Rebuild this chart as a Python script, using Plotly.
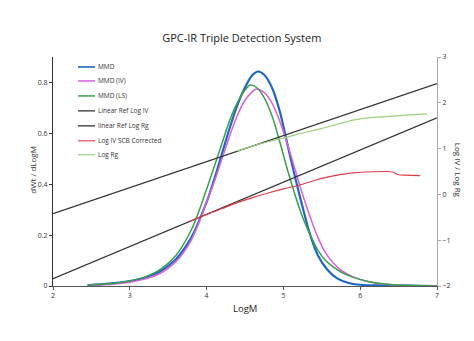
import plotly.graph_objects as go

# Molecular mass distributions (left axis: dWt/dLogM)
logm_mmd = [2.45, 2.6, 2.8, 3.0, 3.2, 3.4, 3.6, 3.8, 4.0, 4.1, 4.2, 4.3, 4.4, 4.5, 4.6,
            4.67, 4.75, 4.85, 4.95, 5.05, 5.15, 5.25, 5.35, 5.45, 5.57, 5.7, 5.85, 6.0,
            6.3, 6.8, 7.0]
mmd = [0.003, 0.006, 0.011, 0.019, 0.033, 0.058, 0.105, 0.19, 0.33, 0.42, 0.52, 0.62,
       0.71, 0.78, 0.83, 0.843, 0.83, 0.78, 0.69, 0.56, 0.43, 0.31, 0.2, 0.12, 0.065,
       0.03, 0.012, 0.005, 0.002, 0.001, 0.0]

logm_iv = [2.45, 2.6, 2.8, 3.0, 3.2, 3.4, 3.6, 3.8, 4.0, 4.1, 4.2, 4.3, 4.4, 4.5, 4.6,
           4.65, 4.75, 4.85, 4.95, 5.05, 5.15, 5.25, 5.35, 5.45, 5.55, 5.65, 5.75, 5.9,
           6.1, 6.3, 6.5, 6.8, 7.0]
mmd_iv = [0.002, 0.004, 0.008, 0.015, 0.028, 0.05, 0.095, 0.18, 0.33, 0.41, 0.5, 0.59,
          0.67, 0.73, 0.765, 0.774, 0.76, 0.72, 0.65, 0.56, 0.46, 0.36, 0.27, 0.19, 0.13,
          0.09, 0.062, 0.037, 0.018, 0.008, 0.003, 0.001, 0.0]

logm_ls = [2.45, 2.6, 2.8, 3.0, 3.2, 3.4, 3.6, 3.8, 4.0, 4.1, 4.2, 4.3, 4.4, 4.5, 4.57,
           4.65, 4.75, 4.85, 4.95, 5.05, 5.15, 5.25, 5.35, 5.45, 5.55, 5.65, 5.75, 5.9,
           6.1, 6.3, 6.5, 6.8, 7.0]
mmd_ls = [0.003, 0.006, 0.011, 0.02, 0.036, 0.065, 0.12, 0.22, 0.38, 0.47, 0.56, 0.65,
          0.72, 0.77, 0.79, 0.78, 0.74, 0.67, 0.57, 0.46, 0.36, 0.27, 0.2, 0.14, 0.1,
          0.075, 0.055, 0.035, 0.018, 0.009, 0.004, 0.001, 0.0]

# Linear reference lines (right axis)
logm_ref = [2.0, 7.0]
ref_log_iv = [-1.84, 1.67]
ref_log_rg = [-0.42, 2.42]

# Measured branching curves (right axis)
logm_scb = [3.78, 4.0, 4.2, 4.4, 4.6, 4.8, 5.0, 5.2, 5.4, 5.5, 5.7, 5.9, 6.1, 6.33,
            6.42, 6.5, 6.6, 6.78]
log_iv_scb = [-0.59, -0.44, -0.31, -0.18, -0.07, 0.03, 0.12, 0.2, 0.3, 0.35, 0.42,
              0.47, 0.49, 0.5, 0.49, 0.43, 0.42, 0.41]

logm_rg = [4.4, 4.6, 4.8, 5.0, 5.2, 5.48, 5.7, 5.91, 6.1, 6.35, 6.6, 6.87]
log_rg = [0.95, 1.06, 1.15, 1.23, 1.32, 1.43, 1.53, 1.62, 1.67, 1.70, 1.73, 1.76]

FONT = "Open Sans, Noto Sans, sans-serif"

# Plot area in pixels
W, H = 474, 341
ML, MR, MT, MB = 53, 37, 57, 54.5
PW, PH = W - ML - MR, H - MT - MB


def px(x):
    return (x - ML) / PW


def py(y):
    return 1 - (y - MT) / PH


series = [
    dict(x=logm_mmd, y=mmd, name="MMD", axis="y", color="#1c68c8", width=2.2, spline=True),
    dict(x=logm_iv, y=mmd_iv, name="MMD (IV)", axis="y", color="#e05ce0", width=1.5, spline=True),
    dict(x=logm_ls, y=mmd_ls, name="MMD (LS)", axis="y", color="#38a048", width=1.5, spline=True),
    dict(x=logm_ref, y=ref_log_iv, name="Linear Ref Log IV", axis="y2", color="#333333", width=1.3, spline=False),
    dict(x=logm_ref, y=ref_log_rg, name="linear Ref Log Rg", axis="y2", color="#333333", width=1.3, spline=False),
    dict(x=logm_scb, y=log_iv_scb, name="Log IV SCB Corrected", axis="y2", color="#e23a44", width=1.1, spline=True),
    dict(x=logm_rg, y=log_rg, name="Log Rg", axis="y2", color="#98d27c", width=1.2, spline=True),
]

fig = go.Figure()
for s in series:
    fig.add_trace(go.Scatter(
        x=s["x"], y=s["y"], name=s["name"], mode="lines", yaxis=s["axis"],
        line=dict(color=s["color"], width=s["width"],
                  shape="spline" if s["spline"] else "linear")))

# Compact legend drawn as short line samples with labels
legend_rows = [67, 81, 96, 111, 126, 141, 155]
shapes, annotations = [], []
for s, ry in zip(series, legend_rows):
    shapes.append(dict(type="line", xref="paper", yref="paper",
                       x0=px(78), x1=px(95), y0=py(ry), y1=py(ry),
                       line=dict(color=s["color"], width=min(s["width"], 1.6))))
    annotations.append(dict(text=s["name"], xref="paper", yref="paper",
                            x=px(96), y=py(ry), xanchor="left", yanchor="middle",
                            showarrow=False,
                            font=dict(family=FONT, size=6.5, color="#333333")))

annotations += [
    dict(text="LogM", xref="paper", yref="paper", x=px(245), y=py(309),
         xanchor="center", yanchor="middle", showarrow=False,
         font=dict(family=FONT, size=9.5, color="#222222")),
    dict(text="dWt / dLogM", xref="paper", yref="paper", x=px(33), y=py(170),
         xanchor="center", yanchor="middle", showarrow=False, textangle=-90,
         font=dict(family=FONT, size=8, color="#333333")),
    dict(text="Log IV / Log Rg", xref="paper", yref="paper", x=px(458), y=py(170),
         xanchor="center", yanchor="middle", showarrow=False, textangle=90,
         font=dict(family=FONT, size=8, color="#333333")),
]

tickfont = dict(family=FONT, size=7, color="#333333")

fig.update_layout(
    width=W, height=H,
    margin=dict(l=ML, r=MR, t=MT, b=MB),
    paper_bgcolor="white", plot_bgcolor="white",
    font=dict(family=FONT, color="#333333"),
    title=dict(text="GPC-IR Triple Detection System", x=0.51, xanchor="center",
               y=1 - 38 / H, yanchor="middle",
               font=dict(family=FONT, size=11, color="#222222")),
    showlegend=False,
    shapes=shapes,
    annotations=annotations,
    xaxis=dict(range=[2, 7], dtick=1, showgrid=False, zeroline=False,
               showline=True, linecolor="#555555", linewidth=1,
               ticks="outside", ticklen=3, tickcolor="#555555", tickfont=tickfont),
    yaxis=dict(range=[0, 0.9], tickvals=[0, 0.2, 0.4, 0.6, 0.8],
               ticktext=["0", "0.2", "0.4", "0.6", "0.8"],
               showgrid=False, zeroline=False, showline=True, linecolor="#333333",
               linewidth=1, ticks="outside", ticklen=3, tickcolor="#333333",
               tickfont=tickfont),
    yaxis2=dict(range=[-2, 3], dtick=1, overlaying="y", side="right",
                showgrid=False, zeroline=False, showline=True, linecolor="#aaaaaa",
                linewidth=1, ticks="outside", ticklen=3, tickcolor="#aaaaaa",
                tickfont=tickfont),
)

fig.write_html("out.html")
